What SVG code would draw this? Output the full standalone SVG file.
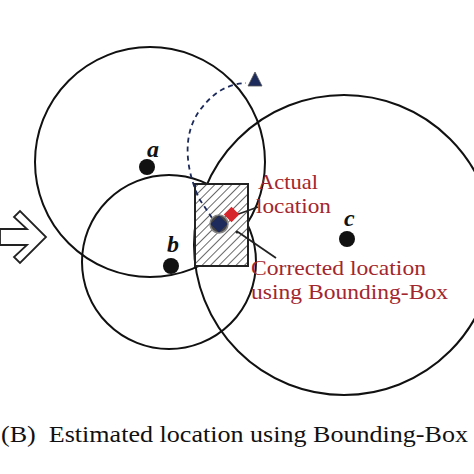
<svg xmlns="http://www.w3.org/2000/svg" width="474" height="474" viewBox="0 0 474 474">
<defs>
<pattern id="hatch" patternUnits="userSpaceOnUse" width="6" height="6" patternTransform="rotate(45)">
<rect width="6" height="6" fill="#fff"/>
<line x1="0" y1="0" x2="0" y2="6" stroke="#444" stroke-width="1.6"/>
</pattern>
<marker id="ah" viewBox="0 0 10 10" refX="8" refY="5" markerWidth="5" markerHeight="5" orient="auto">
<path d="M0,0 L10,5 L0,10 Z" fill="#1c2a5c"/>
</marker>
</defs>
<style>
.circ{fill:none;stroke:#111;stroke-width:2}
.dot{fill:#111}
.lbl{font-family:"Liberation Serif",serif;font-style:italic;font-weight:bold;font-size:24px;fill:#111}
.red{font-family:"Liberation Serif",serif;font-size:22px;fill:#a3262e}
.cap{font-family:"Liberation Serif",serif;font-size:24px;fill:#111}
</style>
<rect width="474" height="474" fill="#fff"/>
<g id="circles">
<circle class="circ" cx="150" cy="162" r="115"/>
<circle class="circ" cx="169" cy="262" r="87"/>
<circle class="circ" cx="344" cy="245" r="150"/>
</g>
<g id="box">
<rect x="195" y="184" width="53" height="82" fill="url(#hatch)" stroke="#222" stroke-width="2"/>
</g>
<g id="connectors">
<path d="M212,218 L200,200 C190,180 178,140 200,110 C215,90 230,84 246,83" fill="none" stroke="#1c2a5c" stroke-width="1.8" stroke-dasharray="5,4" marker-start="url(#ah)"/>
<line x1="233" y1="216" x2="258" y2="207" stroke="#222" stroke-width="1.8"/>
<line x1="238" y1="232" x2="276" y2="258" stroke="#222" stroke-width="1.8"/>
</g>
<g id="triangle">
<polygon points="255,72 262,86 248,86" fill="#1c2a5c" stroke="#555" stroke-width="0.8"/>
</g>
<g id="estimate">
<circle cx="219" cy="224" r="9" fill="#444" stroke="#888" stroke-width="1.5"/>
<rect x="213" y="218" width="12" height="12" fill="#1c2a5c" transform="rotate(45 219 224)"/>
<rect x="226" y="209" width="11" height="11" fill="#d7262b" transform="rotate(45 231.5 214.5)"/>
<circle cx="237" cy="232" r="1.5" fill="#222"/>
</g>
<g id="node-a"><circle class="dot" cx="147" cy="167" r="8"/><text class="lbl" x="147" y="157">a</text></g>
<g id="node-b"><circle class="dot" cx="171" cy="266" r="8"/><text class="lbl" x="167" y="252">b</text></g>
<g id="node-c"><circle class="dot" cx="347" cy="239" r="8"/><text class="lbl" x="344" y="226">c</text></g>
<g id="labels">
<text class="red" x="258" y="189" textLength="60" lengthAdjust="spacingAndGlyphs">Actual</text>
<text class="red" x="256" y="213" textLength="75" lengthAdjust="spacingAndGlyphs">location</text>
<text class="red" x="251" y="275" textLength="175" lengthAdjust="spacingAndGlyphs">Corrected location</text>
<text class="red" x="251" y="299" textLength="197" lengthAdjust="spacingAndGlyphs">using Bounding-Box</text>
</g>
<g id="arrow">
<polygon points="0,229 27,229 14,217 20,211 46,237 20,263 14,257 27,245 0,245" fill="#fff" stroke="#222" stroke-width="1.8"/>
</g>
<text class="cap" x="1" y="442" xml:space="preserve" textLength="467" lengthAdjust="spacingAndGlyphs">(B)  Estimated location using Bounding-Box</text>
</svg>
